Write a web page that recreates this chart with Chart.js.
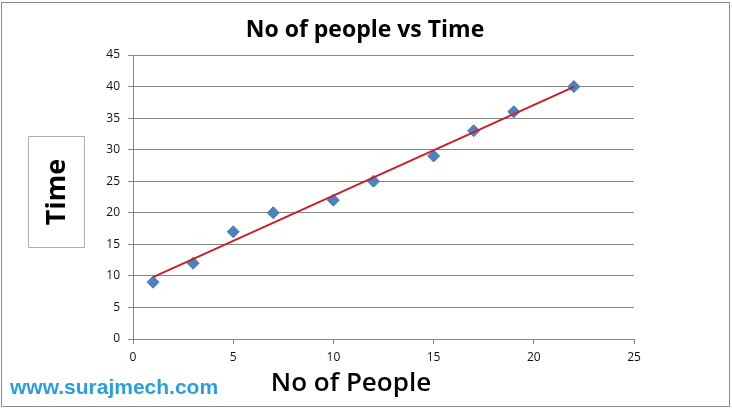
<!DOCTYPE html>
<html>
<head>
<meta charset="utf-8">
<script src="https://cdn.jsdelivr.net/npm/chart.js@4/dist/chart.umd.min.js"></script>
<style>
  html, body { margin: 0; padding: 0; background: #fff; }
  #wrap { width: 732px; height: 409px; }
</style>
</head>
<body>
<div id="wrap"><canvas id="people-chart"></canvas></div>
<script>
// data
const people = [1, 3, 5, 7, 10, 12, 15, 17, 19, 22];
const times = [9, 12, 17, 20, 22, 25, 29, 33, 36, 40];
const xTicks = [0, 5, 10, 15, 20, 25];
const yTicks = [0, 5, 10, 15, 20, 25, 30, 35, 40, 45];

// least squares trendline, drawn from first to last x
function trendline(xs, ys) {
  const n = xs.length;
  const mx = xs.reduce((a, b) => a + b, 0) / n;
  const my = ys.reduce((a, b) => a + b, 0) / n;
  let sxy = 0, sxx = 0;
  xs.forEach((x, i) => {
    sxy += (x - mx) * (ys[i] - my);
    sxx += (x - mx) * (x - mx);
  });
  const slope = sxy / sxx;
  const icept = my - slope * mx;
  const x0 = Math.min(...xs), x1 = Math.max(...xs);
  return [
    { x: x0, y: icept + slope * x0 },
    { x: x1, y: icept + slope * x1 },
  ];
}

// frame, title, boxed y title, x title and site name
const decorations = {
  id: "decorations",
  afterDraw(chart) {
    const ctx = chart.ctx;
    ctx.save();
    ctx.strokeStyle = "#8a8a8a";
    ctx.lineWidth = 1;
    ctx.strokeRect(1.5, 2.5, 728, 404);

    ctx.fillStyle = "#000";
    ctx.textAlign = "center";
    ctx.textBaseline = "middle";
    ctx.font = "bold 23px 'Open Sans'";
    ctx.fillText("No of people vs Time", 365, 30);

    ctx.font = "600 26px 'Open Sans'";
    ctx.fillText("No of People", 351, 384);

    ctx.fillStyle = "#2b9fd8";
    ctx.font = "bold 21px 'Liberation Sans'";
    ctx.textAlign = "left";
    ctx.fillText("www.surajmech.com", 10, 388);

    ctx.strokeStyle = "#b0b0b0";
    ctx.strokeRect(28.5, 136.5, 56, 111);
    ctx.translate(57, 192);
    ctx.rotate(-Math.PI / 2);
    ctx.fillStyle = "#000";
    ctx.font = "bold 27px 'Open Sans'";
    ctx.textAlign = "center";
    ctx.fillText("Time", 0, 0);
    ctx.restore();
  },
};

const chartElement = document.getElementById("people-chart");
const peopleChart = new Chart(chartElement, {
  type: "scatter",
  data: {
    datasets: [
      {
        label: "Time",
        data: people.map((x, i) => ({ x: x, y: times[i] })),
        pointStyle: "rectRot",
        pointRadius: 6,
        backgroundColor: "#4f81bd",
        borderColor: "#4a78b0",
        borderWidth: 1,
        order: 1,
      },
      {
        type: "line",
        label: "Trend",
        data: trendline(people, times),
        borderColor: "#c8202a",
        borderWidth: 2,
        pointRadius: 0,
        order: 0,
      },
    ],
  },
  plugins: [decorations],
  options: {
    responsive: true,
    maintainAspectRatio: false,
    animation: false,
    layout: { padding: { left: 0, right: 98, top: 55, bottom: 0 } },
    plugins: {
      legend: { display: false },
      tooltip: { enabled: false },
      title: { display: false },
    },
    scales: {
      x: {
        type: "linear",
        min: 0,
        max: 25,
        afterBuildTicks: (scale) => {
          scale.ticks = xTicks.map((v) => ({ value: v }));
        },
        afterFit: (scale) => {
          scale.height = 70;
        },
        grid: {
          drawOnChartArea: false,
          drawTicks: true,
          tickLength: 5,
          tickColor: "#868686",
        },
        border: { display: true, color: "#868686" },
        ticks: {
          color: "#111",
          padding: 6,
          font: { family: "'Open Sans'", size: 12 },
        },
      },
      y: {
        min: 0,
        max: 45,
        afterBuildTicks: (scale) => {
          scale.ticks = yTicks.map((v) => ({ value: v }));
        },
        afterFit: (scale) => {
          scale.width = 133;
        },
        grid: {
          color: "#868686",
          tickLength: 5,
          tickColor: "#868686",
        },
        border: { display: true, color: "#868686" },
        ticks: {
          color: "#111",
          padding: 8,
          font: { family: "'Open Sans'", size: 12 },
        },
      },
    },
  },
});
</script>
</body>
</html>
